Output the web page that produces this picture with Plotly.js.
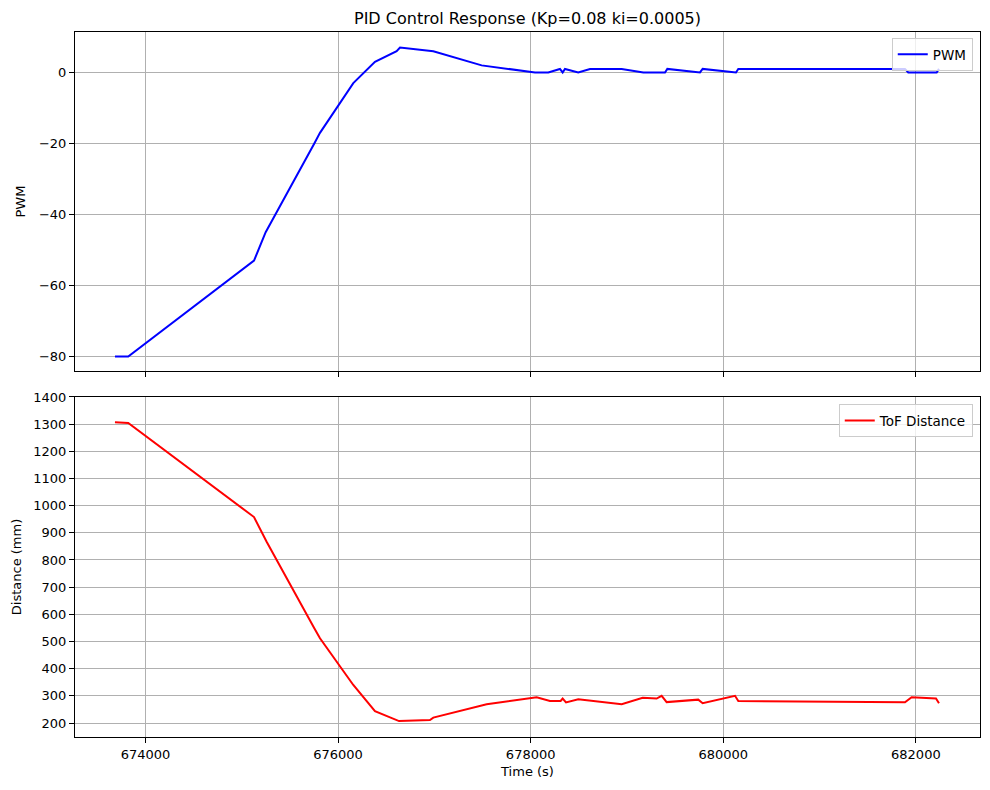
<!DOCTYPE html>
<html>
<head>
<meta charset="utf-8">
<script src="https://cdn.plot.ly/plotly-3.0.1.min.js"></script>
<style>
  html, body { margin: 0; padding: 0; background: #fff; }
  #chart { width: 990px; height: 790px; }
</style>
</head>
<body>
<div id="chart"></div>
<script>
// PWM command over time
var pwmTime = [673683, 673821, 675127, 675248, 675753, 675812, 676158, 676383, 676608, 676643,
  676989, 677491, 678045, 678183, 678304, 678332, 678356, 678494, 678616, 678945,
  679170, 679395, 679419, 679758, 679786, 680132, 680156, 681887, 681921, 682216, 682240];
var pwmValues = [-80, -80, -53, -45, -20, -17, -3, 3, 6, 7,
  6, 2, 0, 0, 1, 0, 1, 0, 1, 1,
  0, 0, 1, 0, 1, 0, 1, 1, 0, 0, 1];

// ToF distance over time (bottom panel)
var distTime = [673683, 673821, 675127, 675258, 675753, 675812, 676158, 676383, 676633, 676954,
  676989, 677543, 678062, 678200, 678311, 678332, 678367, 678494, 678945, 679163,
  679308, 679360, 679412, 679740, 679786, 680122, 680156, 681887, 681956, 682209, 682240];
var distValues = [1307, 1304, 958, 867, 549, 512, 340, 244, 207, 211,
  220, 269, 295, 281, 281, 290, 276, 287, 269, 293,
  290, 300, 277, 286, 273, 300, 281, 276, 295, 290, 273];

var font = { family: 'DejaVu Sans, sans-serif', size: 13, color: '#000' };

var axisStyle = {
  showline: true, mirror: true, linecolor: '#000', linewidth: 1,
  ticks: 'outside', ticklen: 5, tickcolor: '#000', tickwidth: 1,
  showgrid: true, gridcolor: '#b0b0b0', gridwidth: 1,
  zeroline: false, tickfont: { size: 13 }
};

var data = [
  {
    x: pwmTime, y: pwmValues, type: 'scatter', mode: 'lines', name: 'PWM',
    line: { color: '#0000ff', width: 2 }, xaxis: 'x', yaxis: 'y', legend: 'legend'
  },
  {
    x: distTime, y: distValues, type: 'scatter', mode: 'lines', name: 'ToF Distance',
    line: { color: '#ff0000', width: 2 }, xaxis: 'x2', yaxis: 'y2', legend: 'legend2'
  }
];

var xRange = [673268, 682666];

var layout = {
  width: 990, height: 790,
  margin: { l: 75, r: 10, t: 32, b: 53 },
  paper_bgcolor: '#fff', plot_bgcolor: '#fff',
  font: font,
  title: { text: 'PID Control Response (Kp=0.08 ki=0.0005)', font: { size: 16 }, x: 0.5, xref: 'paper', y: 0.977, yanchor: 'middle' },
  showlegend: true,
  xaxis: Object.assign({}, axisStyle, {
    domain: [0, 1], anchor: 'y', range: xRange, showticklabels: false,
    tickvals: [674000, 676000, 678000, 680000, 682000]
  }),
  yaxis: Object.assign({}, axisStyle, {
    domain: [0.5191, 1], anchor: 'x', range: [-84.1, 11.4],
    tickvals: [-80, -60, -40, -20, 0],
    title: { text: 'PWM', standoff: 10, font: { size: 13 } }
  }),
  xaxis2: Object.assign({}, axisStyle, {
    domain: [0, 1], anchor: 'y2', range: xRange, matches: 'x',
    tickvals: [674000, 676000, 678000, 680000, 682000], tickformat: 'd',
    title: { text: 'Time (s)', standoff: 6, font: { size: 13 } }
  }),
  yaxis2: Object.assign({}, axisStyle, {
    domain: [0, 0.4823], anchor: 'x2', range: [148.5, 1400],
    tickvals: [200, 300, 400, 500, 600, 700, 800, 900, 1000, 1100, 1200, 1300, 1400],
    tickformat: 'd',
    title: { text: 'Distance (mm)', standoff: 8, font: { size: 13 } }
  }),
  legend: {
    x: 0.992, y: 0.9915, xanchor: 'right', yanchor: 'top',
    bgcolor: 'rgba(255,255,255,0.8)', bordercolor: '#cccccc', borderwidth: 1,
    font: { size: 13.5 }
  },
  legend2: {
    x: 0.992, y: 0.472, xanchor: 'right', yanchor: 'top',
    bgcolor: 'rgba(255,255,255,0.8)', bordercolor: '#cccccc', borderwidth: 1,
    font: { size: 13.5 }
  }
};

Plotly.newPlot('chart', data, layout, { displayModeBar: false, staticPlot: true });
</script>
</body>
</html>
